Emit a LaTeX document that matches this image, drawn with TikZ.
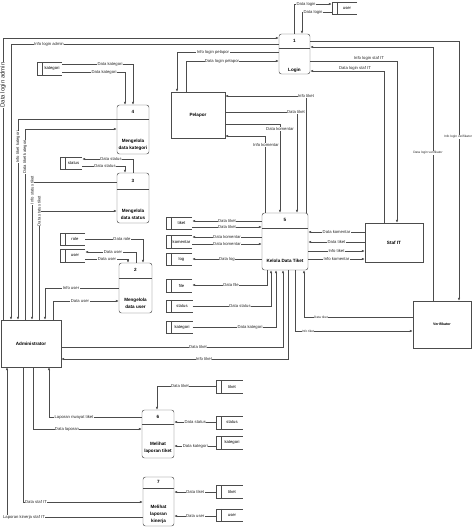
\documentclass[tikz,border=0pt]{standalone}
\usepackage{fontspec}
\setmainfont{Liberation Sans}
\usetikzlibrary{arrows.meta}
\usetikzlibrary{positioning}
\usetikzlibrary{calc}

% process: name, x, y, width, height, header, number, title, gap
\newcommand{\dfdproc}[9]{%
  \node[proc, minimum width=#4pt, minimum height=#5pt] (#1) at (#2,#3) {};
  \draw[procline] ([yshift=-#6pt]#1.north west) -- ([yshift=-#6pt]#1.north east);
  \node[procnum] (#1n) at ($(#1.north)!0.5!([yshift=-#6pt]#1.north)$) {#7};
  \node[proctxt, above=#9pt of #1.south] (#1t) {#8};
}
% data store: name, x, y, width, label
\newcommand{\dstore}[5]{%
  \node[storebox, minimum width=#4pt] (#1) at (#2,#3) {};
  \draw[storeline] (#1.north east) -- (#1.north west) -- (#1.south west) -- (#1.south east);
  \draw[storeline] ([xshift=5pt]#1.north west) -- ([xshift=5pt]#1.south west);
  \node[storetxt] (#1t) at ([xshift=2.5pt]#1.center) {#5};
}

\begin{document}
\begin{tikzpicture}[x=1pt, y=-1pt, line width=0.45pt,
    proc/.style={draw=black!70, rounded corners=2.5pt, inner sep=0pt},
    procline/.style={draw=black!70},
    procnum/.style={font=\fontsize{4.6}{5}\selectfont\bfseries, inner sep=0.5pt},
    proctxt/.style={font=\fontsize{4.6}{7}\selectfont\bfseries, align=center, inner sep=0.5pt},
    ent/.style={draw=black!70, inner sep=0pt, font=\fontsize{4.6}{5}\selectfont\bfseries},
    storebox/.style={minimum height=12pt, inner sep=0pt},
    storeline/.style={draw=black!70},
    storetxt/.style={font=\fontsize{4.2}{5}\selectfont, inner sep=0pt},
    flow/.style={draw=black!70, -{Latex[length=2.8pt,width=2.2pt]}},
    lbl/.style={font=\fontsize{4.2}{5}\selectfont, fill=white, inner sep=0.4pt, text=black!85},
    vlbl/.style={lbl, rotate=90},
    tinylbl/.style={lbl, font=\fontsize{3.2}{4}\selectfont},
  ]
  \useasboundingbox (0,0) rectangle (474,527);

  % processes
  \dfdproc{p1}{294.5}{54}{31}{40}{14}{1}{Login}{1.5}
  \dfdproc{p4}{133}{129.5}{32}{49}{14}{4}{Mengelola\\data kategori}{3}
  \dfdproc{p3}{133}{198}{32}{50}{16}{3}{Mengelola\\data status}{3}
  \dfdproc{p2}{135.5}{288}{33}{50}{15}{2}{Mengelola\\data user}{4}
  \dfdproc{p5}{285}{241.5}{46}{57}{15}{5}{Kelola Data Tiket}{6.5}
  \dfdproc{p6}{158}{434}{32}{48}{14}{6}{Melihat\\laporan tiket}{4}
  \dfdproc{p7}{158.5}{501.5}{31}{49}{11}{7}{Melihat\\laporan\\kinerja}{2}

  % external entities
  \node[ent, minimum width=54pt, minimum height=46pt] (pel) at (198,115) {Pelapor};
  \node[ent, minimum width=58pt, minimum height=39pt] (staf) at (394,242.5) {Staf IT};
  \node[ent, minimum width=58pt, minimum height=47pt, font=\fontsize{3.6}{4}\selectfont\bfseries] (ver) at (442,324.5) {Verifikator};
  \node[ent, minimum width=60pt, minimum height=47pt] (adm) at (31,343.5) {Administrator};

  % data stores
  \dstore{suser}{344.5}{8}{25}{user}
  \dstore{skat}{49.5}{68.5}{25}{kategori}
  \dstore{sstat}{71}{163}{22}{status}
  \dstore{srole}{72.5}{239}{25}{role}
  \dstore{suser2}{72.5}{255.5}{25}{user}
  \dstore{stik5}{179}{223}{26}{tiket}
  \dstore{skom}{179}{241.5}{26}{komentar}
  \dstore{slog}{179}{259}{26}{log}
  \dstore{sfile}{179}{285.5}{26}{file}
  \dstore{sstat5}{179.5}{306}{26}{status}
  \dstore{skat5}{179.5}{327}{26}{kategori}
  \dstore{stik6}{229.5}{386.5}{26}{tiket}
  \dstore{sstat6}{229.5}{422.5}{26}{status}
  \dstore{skat6}{229.5}{442.5}{26}{kategori}
  \dstore{stik7}{229.5}{491.5}{26}{tiket}
  \dstore{suser7}{229.5}{515}{26}{user}

  % login
  \draw[flow] (p1.north -| 294,0) |- (suser.west |- 0,4) node[lbl] at (306,4) {Data login};
  \draw[flow] (suser.west |- 0,12) -| (p1.north -| 302,0) node[lbl] at (313,12) {Data login};
  \draw[flow] (adm.north -| 3,0) |- (p1.west |- 0,38) node[vlbl, font=\fontsize{6}{7}\selectfont] at (3,85) {Data login admin};
  \draw[flow] (p1.west |- 0,44) -| (adm.north -| 11,0) node[lbl] at (49,44) {Info login admin};
  \draw[flow] (p1.west |- 0,52) -| (pel.north -| 177,0) node[lbl] at (213,52) {Info login pelapor};
  \draw[flow] (pel.north -| 186,0) |- (p1.west |- 0,61) node[lbl] at (222,61) {Data login pelapor};
  \draw[flow] (p1.east |- 0,41) -| (ver.north -| 459,0) node[tinylbl] at (458,137) {Info login verifikator};
  \draw[flow] (ver.north -| 433,0) |- (p1.east |- 0,47) node[tinylbl] at (428,153) {Data login verifikator};
  \draw[flow] (p1.east |- 0,61) -| (staf.north -| 397,0) node[lbl, above] at (369,61) {Info login staf IT};
  \draw[flow] (staf.north -| 384,0) |- (p1.east |- 0,71) node[lbl, above] at (355,71) {Data login staf IT};

  % pelapor
  \draw[flow] (p5.north -| 306,0) |- (pel.east |- 0,96) node[lbl] at (306,96) {Info tiket};
  \draw[flow] (pel.east |- 0,112) -| (p5.north -| 297,0) node[lbl] at (296,112) {Data tiket};
  \draw[flow] (pel.east |- 0,124) -| (p5.north -| 280,0) node[lbl] at (280,129) {Data komentar};
  \draw[flow] (p5.north -| 265,0) |- (pel.east |- 0,136) node[lbl] at (266,145) {Info komentar};

  % staf IT
  \draw[flow] (staf.west |- 0,232) -- (p5.east |- 0,232) node[lbl, midway] {Data komentar};
  \draw[flow] (staf.west |- 0,242) -- (p5.east |- 0,242) node[lbl, midway] {Data tiket};
  \draw[flow] (p5.east |- 0,251) -- (staf.west |- 0,251) node[lbl, midway] {Info tiket};
  \draw[flow] (p5.east |- 0,259) -- (staf.west |- 0,259) node[lbl, midway] {Info komentar};

  % verifikator
  \draw[flow] (ver.west |- 0,317) -| (p5.south -| 304,0) node[tinylbl] at (321,317) {Data tiket};
  \draw[flow] (p5.south -| 295,0) |- (ver.west |- 0,331) node[tinylbl] at (308,331) {Info tiket};

  % kelola data tiket
  \draw[flow] (p5.west |- 0,221) -- (stik5.east |- 0,221) node[lbl, midway] {Data tiket};
  \draw[flow] (stik5.east |- 0,227) -- (p5.west |- 0,227) node[lbl, midway] {Data tiket};
  \draw[flow] (p5.west |- 0,237) -- (skom.east |- 0,237) node[lbl, midway] {Data komentar};
  \draw[flow] (skom.east |- 0,244) -- (p5.west |- 0,244) node[lbl, midway] {Data komentar};
  \draw[flow] (p5.west |- 0,259) -- (slog.east |- 0,259) node[lbl, midway] {Data log};
  \draw[flow] (p5.south -| 267,0) |- (sfile.east |- 0,285) node[lbl] at (231,285) {Data file};
  \draw[flow] (sstat5.east |- 0,306) -| (p5.south -| 271,0) node[lbl] at (240,306) {Data status};
  \draw[flow] (skat5.east |- 0,327) -| (p5.south -| 276,0) node[lbl] at (250,327) {Data kategori};
  \draw[flow] (adm.east |- 0,347) -| (p5.south -| 283,0) node[lbl] at (198,347) {Data tiket};
  \draw[flow] (p5.south -| 288,0) |- (adm.east |- 0,359) node[lbl] at (204,359) {Info tiket};

  % administrator
  \draw[flow] (p4.west |- 0,119) -| (adm.north -| 18,0) node[vlbl] at (18,147) {Info tiket kategori};
  \draw[flow] (adm.north -| 25,0) |- (p4.west |- 0,129) node[vlbl] at (25,157) {Data tiket kategori};
  \draw[flow] (p3.west |- 0,182) -| (adm.north -| 32,0) node[vlbl] at (32,190) {Info status tiket};
  \draw[flow] (adm.north -| 39,0) |- (p3.west |- 0,211) node[vlbl] at (39,211) {Data status tiket};
  \draw[flow] (p2.west |- 0,288) -| (adm.north -| 45,0) node[lbl] at (71,288) {Info user};
  \draw[flow] (adm.north -| 53,0) |- (p2.west |- 0,301) node[lbl] at (80,301) {Data user};

  % kategori, status, user
  \draw[flow] (skat.east |- 0,64) -| (p4.north -| 133,0) node[lbl] at (110,64) {Data kategori};
  \draw[flow] (skat.east |- 0,72) -| (p4.north -| 125,0) node[lbl] at (104,72) {Data kategori};
  \draw[flow] (p3.north -| 133,0) |- (sstat.east |- 0,159) node[lbl] at (111,159) {Data status};
  \draw[flow] (sstat.east |- 0,166) -| (p3.north -| 125,0) node[lbl] at (105,166) {Data status};
  \draw[flow] (srole.east |- 0,239) -| (p2.north -| 143,0) node[lbl] at (122,239) {Data role};
  \draw[flow] (p2.north -| 136,0) |- (suser2.east |- 0,252) node[lbl] at (113,252) {Data user};
  \draw[flow] (suser2.east |- 0,259) -| (p2.north -| 128,0) node[lbl] at (107,259) {Data user};

  % laporan
  \draw[flow] (p6.west |- 0,417) -| (adm.south -| 49,0) node[lbl] at (74,417) {Laporan riwayat tiket};
  \draw[flow] (adm.south -| 33,0) |- (p6.west |- 0,429) node[lbl] at (67,429) {Data laporan};
  \draw[flow] (adm.south -| 23,0) |- (p7.west |- 0,502) node[lbl] at (36,502) {Data staf IT};
  \draw[flow] (p7.west |- 0,517) -| (adm.south -| 7,0) node[lbl] at (24,517) {Laporan kinerja staf IT};
  \draw[flow] (stik6.west |- 0,386) -| (p6.north -| 157,0) node[lbl] at (180,386) {Data tiket};
  \draw[flow] (sstat6.west |- 0,422) -- (p6.east |- 0,422) node[lbl, midway] {Data status};
  \draw[flow] (skat6.west |- 0,446) -- (p6.east |- 0,446) node[lbl, midway] {Data kategori};
  \draw[flow] (stik7.west |- 0,492) -- (p7.east |- 0,492) node[lbl, midway] {Data tiket};
  \draw[flow] (suser7.west |- 0,516) -- (p7.east |- 0,516) node[lbl, midway] {Data user};
\end{tikzpicture}
\end{document}
